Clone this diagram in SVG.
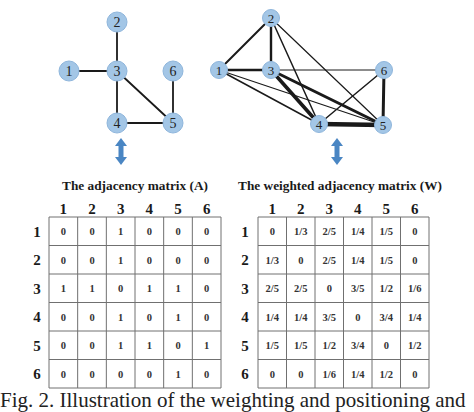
<svg xmlns="http://www.w3.org/2000/svg" width="474" height="412" viewBox="0 0 474 412">
<style>
.bg{fill:#ffffff}
.nodeL{fill:#a3c6e6;stroke:#8fb6dc;stroke-width:1}
.lbl{font-family:"Liberation Serif","Times New Roman",serif;fill:#222;text-anchor:middle}
.nl{font-size:14px}
.nr{font-size:13px}
.e{stroke:#1a1a1a;stroke-linecap:round;fill:none}
.grid{stroke:#707070;stroke-width:1;fill:none}
.cell{font-family:"Liberation Serif","Times New Roman",serif;font-weight:bold;font-size:10.5px;fill:#333;text-anchor:middle}
.hdr{font-family:"Liberation Serif","Times New Roman",serif;font-weight:bold;font-size:15px;fill:#1a1a1a;text-anchor:middle}
.ttl{font-family:"Liberation Serif","Times New Roman",serif;font-weight:bold;font-size:13.3px;fill:#1a1a1a;text-anchor:middle}
.cap{font-family:"Liberation Serif","Times New Roman",serif;font-size:21px;fill:#222}
.arr{fill:#4a86c3}
</style>
<defs>
<path id="dblarrow" d="M0,-13.5 L6,-5.5 L2.5,-5.5 L2.5,5.5 L6,5.5 L0,13.5 L-6,5.5 L-2.5,5.5 L-2.5,-5.5 L-6,-5.5 Z"/>
</defs>
<rect class="bg" x="0" y="0" width="474" height="412"/>

<g id="connectors">
  <!-- left graph -->
  <line class="e" x1="69" y1="71" x2="117" y2="71" stroke-width="2.2"/>
  <line class="e" x1="117" y1="22" x2="117" y2="71" stroke-width="1.8"/>
  <line class="e" x1="117" y1="71" x2="117" y2="123" stroke-width="1.8"/>
  <line class="e" x1="117" y1="71" x2="173" y2="123" stroke-width="1.8"/>
  <line class="e" x1="117" y1="123" x2="173" y2="123" stroke-width="1.8"/>
  <line class="e" x1="173" y1="71" x2="173" y2="123" stroke-width="1.8"/>
  <!-- right graph (weighted) -->
  <line class="e" x1="219" y1="70" x2="271" y2="18" stroke-width="2"/>
  <line class="e" x1="219" y1="70" x2="271" y2="70" stroke-width="2.4"/>
  <line class="e" x1="219" y1="70" x2="319" y2="124" stroke-width="1.5"/>
  <line class="e" x1="219" y1="70" x2="383" y2="125" stroke-width="1.2"/>
  <line class="e" x1="271" y1="18" x2="271" y2="70" stroke-width="2.4"/>
  <line class="e" x1="271" y1="18" x2="319" y2="124" stroke-width="1.5"/>
  <line class="e" x1="271" y1="18" x2="383" y2="125" stroke-width="1.2"/>
  <line class="e" x1="271" y1="70" x2="319" y2="124" stroke-width="3.6"/>
  <line class="e" x1="271" y1="70" x2="383" y2="125" stroke-width="3"/>
  <line class="e" x1="271" y1="70" x2="384" y2="70" stroke-width="1"/>
  <line class="e" x1="319" y1="124" x2="383" y2="125" stroke-width="4.5"/>
  <line class="e" x1="319" y1="124" x2="384" y2="70" stroke-width="1.5"/>
  <line class="e" x1="383" y1="125" x2="384" y2="70" stroke-width="3"/>
</g>

<g id="L1"><circle class="nodeL" cx="69" cy="71" r="10"/><text class="lbl nl" x="69" y="76">1</text></g>
<g id="L2"><circle class="nodeL" cx="117" cy="22" r="10"/><text class="lbl nl" x="117" y="27">2</text></g>
<g id="L3"><circle class="nodeL" cx="117" cy="71" r="10"/><text class="lbl nl" x="117" y="76">3</text></g>
<g id="L4"><circle class="nodeL" cx="117" cy="123" r="10"/><text class="lbl nl" x="117" y="128">4</text></g>
<g id="L5"><circle class="nodeL" cx="173" cy="123" r="10"/><text class="lbl nl" x="173" y="128">5</text></g>
<g id="L6"><circle class="nodeL" cx="173" cy="71" r="10"/><text class="lbl nl" x="173" y="76">6</text></g>

<g id="R1"><circle class="nodeL" cx="219" cy="70" r="8.5"/><text class="lbl nr" x="219" y="74.5">1</text></g>
<g id="R2"><circle class="nodeL" cx="271" cy="18" r="8.5"/><text class="lbl nr" x="271" y="22.5">2</text></g>
<g id="R3"><circle class="nodeL" cx="271" cy="70" r="8.5"/><text class="lbl nr" x="271" y="74.5">3</text></g>
<g id="R4"><circle class="nodeL" cx="319" cy="124" r="8.5"/><text class="lbl nr" x="319" y="128.5">4</text></g>
<g id="R5"><circle class="nodeL" cx="383" cy="125" r="8.5"/><text class="lbl nr" x="383" y="129.5">5</text></g>
<g id="R6"><circle class="nodeL" cx="384" cy="70" r="8.5"/><text class="lbl nr" x="384" y="74.5">6</text></g>

<g id="arrows">
  <use href="#dblarrow" class="arr" x="121" y="151.5"/>
  <use href="#dblarrow" class="arr" x="337" y="151.5"/>
</g>

<g id="matrixA">
  <text class="ttl" x="135" y="190">The adjacency matrix (A)</text>
  <g class="hdr">
    <text x="63.3" y="214">1</text><text x="92" y="214">2</text><text x="120.7" y="214">3</text><text x="149.3" y="214">4</text><text x="178" y="214">5</text><text x="206.7" y="214">6</text>
    <text x="37" y="236.5">1</text><text x="37" y="265">2</text><text x="37" y="293.5">3</text><text x="37" y="322">4</text><text x="37" y="350.5">5</text><text x="37" y="379">6</text>
  </g>
  <path class="grid" d="M49,217H221M49,245.5H221M49,274H221M49,302.5H221M49,331H221M49,359.5H221M49,388H221M49,217V388M77.67,217V388M106.33,217V388M135,217V388M163.67,217V388M192.33,217V388M221,217V388"/>
  <g class="cell">
    <text x="63.3" y="235">0</text><text x="92" y="235">0</text><text x="120.7" y="235">1</text><text x="149.3" y="235">0</text><text x="178" y="235">0</text><text x="206.7" y="235">0</text>
    <text x="63.3" y="263.5">0</text><text x="92" y="263.5">0</text><text x="120.7" y="263.5">1</text><text x="149.3" y="263.5">0</text><text x="178" y="263.5">0</text><text x="206.7" y="263.5">0</text>
    <text x="63.3" y="292">1</text><text x="92" y="292">1</text><text x="120.7" y="292">0</text><text x="149.3" y="292">1</text><text x="178" y="292">1</text><text x="206.7" y="292">0</text>
    <text x="63.3" y="320.5">0</text><text x="92" y="320.5">0</text><text x="120.7" y="320.5">1</text><text x="149.3" y="320.5">0</text><text x="178" y="320.5">1</text><text x="206.7" y="320.5">0</text>
    <text x="63.3" y="349">0</text><text x="92" y="349">0</text><text x="120.7" y="349">1</text><text x="149.3" y="349">1</text><text x="178" y="349">0</text><text x="206.7" y="349">1</text>
    <text x="63.3" y="377.5">0</text><text x="92" y="377.5">0</text><text x="120.7" y="377.5">0</text><text x="149.3" y="377.5">0</text><text x="178" y="377.5">1</text><text x="206.7" y="377.5">0</text>
  </g>
</g>

<g id="matrixW">
  <text class="ttl" x="340" y="190">The weighted adjacency matrix (W)</text>
  <g class="hdr">
    <text x="272.25" y="214">1</text><text x="300.75" y="214">2</text><text x="329.25" y="214">3</text><text x="357.75" y="214">4</text><text x="386.25" y="214">5</text><text x="414.75" y="214">6</text>
    <text x="245" y="236.5">1</text><text x="245" y="265">2</text><text x="245" y="293.5">3</text><text x="245" y="322">4</text><text x="245" y="350.5">5</text><text x="245" y="379">6</text>
  </g>
  <path class="grid" d="M258,217H429M258,245.5H429M258,274H429M258,302.5H429M258,331H429M258,359.5H429M258,388H429M258,217V388M286.5,217V388M315,217V388M372,217V388M400.5,217V388M429,217V388"/>
  <path class="grid" d="M343.5,217V388" stroke-width="1.6" stroke="#555"/>
  <g class="cell">
    <text x="272.25" y="235">0</text><text x="300.75" y="235">1/3</text><text x="329.25" y="235">2/5</text><text x="357.75" y="235">1/4</text><text x="386.25" y="235">1/5</text><text x="414.75" y="235">0</text>
    <text x="272.25" y="263.5">1/3</text><text x="300.75" y="263.5">0</text><text x="329.25" y="263.5">2/5</text><text x="357.75" y="263.5">1/4</text><text x="386.25" y="263.5">1/5</text><text x="414.75" y="263.5">0</text>
    <text x="272.25" y="292">2/5</text><text x="300.75" y="292">2/5</text><text x="329.25" y="292">0</text><text x="357.75" y="292">3/5</text><text x="386.25" y="292">1/2</text><text x="414.75" y="292">1/6</text>
    <text x="272.25" y="320.5">1/4</text><text x="300.75" y="320.5">1/4</text><text x="329.25" y="320.5">3/5</text><text x="357.75" y="320.5">0</text><text x="386.25" y="320.5">3/4</text><text x="414.75" y="320.5">1/4</text>
    <text x="272.25" y="349">1/5</text><text x="300.75" y="349">1/5</text><text x="329.25" y="349">1/2</text><text x="357.75" y="349">3/4</text><text x="386.25" y="349">0</text><text x="414.75" y="349">1/2</text>
    <text x="272.25" y="377.5">0</text><text x="300.75" y="377.5">0</text><text x="329.25" y="377.5">1/6</text><text x="357.75" y="377.5">1/4</text><text x="386.25" y="377.5">1/2</text><text x="414.75" y="377.5">0</text>
  </g>
</g>

<text class="cap" x="0" y="407">Fig. 2. Illustration of the weighting and positioning and</text>
</svg>
